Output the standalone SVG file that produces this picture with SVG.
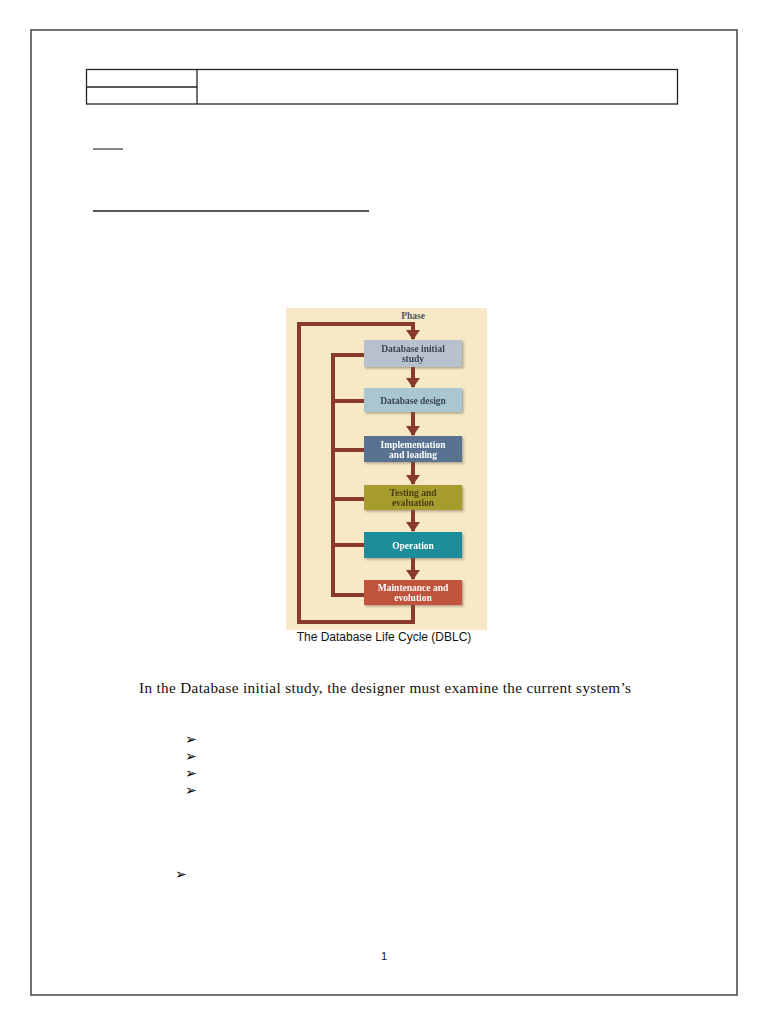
<svg xmlns="http://www.w3.org/2000/svg" width="768" height="1024" viewBox="0 0 768 1024">
<style>
.rule{stroke:#333;fill:none}
.loop{stroke:#8a3a2c;stroke-width:4;fill:none}
.box{stroke:none}
.bt{font-family:"Liberation Serif",serif;font-weight:bold;font-size:9.5px;text-anchor:middle}
.bul{font-family:"DejaVu Sans",sans-serif;font-weight:bold;font-size:14px;fill:#000}
</style>
<defs>
<marker id="ah" viewBox="0 0 10 14" refX="9" refY="7" markerWidth="10" markerHeight="14" markerUnits="userSpaceOnUse" orient="auto">
<path d="M0,0 L10,7 L0,14 Z" fill="#8a3a2c"/>
</marker>
<filter id="sh" x="-10%" y="-20%" width="130%" height="160%">
<feDropShadow dx="1.5" dy="1.5" stdDeviation="1" flood-color="#6b5a40" flood-opacity="0.5"/>
</filter>
</defs>
<rect width="768" height="1024" fill="#fff"/>
<!-- page border -->
<rect x="31" y="30" width="706" height="965" fill="none" stroke="#444" stroke-width="1.5"/>
<!-- header table -->
<g id="header-table" class="rule">
<rect x="86.5" y="69.5" width="591" height="34.5" stroke="#222" stroke-width="1.3"/>
<line x1="86.5" y1="87" x2="197" y2="87" stroke="#222" stroke-width="1.3"/>
<line x1="197" y1="69.5" x2="197" y2="104" stroke="#222" stroke-width="1.3"/>
</g>
<!-- underlines -->
<line x1="93" y1="149" x2="123" y2="149" stroke="#444" stroke-width="1.3"/>
<line x1="93" y1="211" x2="369" y2="211" stroke="#222" stroke-width="1.3"/>
<!-- figure background -->
<rect x="286" y="308" width="201" height="322" fill="#f7e9c8"/>
<text x="413" y="319" class="bt" fill="#555" font-size="9">Phase</text>
<!-- connectors -->
<g id="connectors">
<path class="loop" d="M413,605 V622 H299 V324 H413 V339" marker-end="url(#ah)"/>
<path class="loop" d="M365,355 H333 V595 H365"/>
<line class="loop" x1="333" y1="401" x2="365" y2="401"/>
<line class="loop" x1="333" y1="450" x2="365" y2="450"/>
<line class="loop" x1="333" y1="499" x2="365" y2="499"/>
<line class="loop" x1="333" y1="545" x2="365" y2="545"/>
<line class="loop" x1="413" y1="367" x2="413" y2="387" marker-end="url(#ah)"/>
<line class="loop" x1="413" y1="412" x2="413" y2="435" marker-end="url(#ah)"/>
<line class="loop" x1="413" y1="462" x2="413" y2="484" marker-end="url(#ah)"/>
<line class="loop" x1="413" y1="510" x2="413" y2="531" marker-end="url(#ah)"/>
<line class="loop" x1="413" y1="558" x2="413" y2="579" marker-end="url(#ah)"/>
</g>
<g id="n1" filter="url(#sh)"><rect class="box" x="364" y="340" width="98" height="27" fill="#b8c2cc"/>
<text class="bt" x="413" y="352" fill="#3b4350">Database initial</text><text class="bt" x="413" y="362" fill="#3b4350">study</text></g>
<g id="n2" filter="url(#sh)"><rect class="box" x="364" y="388" width="98" height="24" fill="#a9c7d3"/>
<text class="bt" x="413" y="403.5" fill="#3b4350">Database design</text></g>
<g id="n3" filter="url(#sh)"><rect class="box" x="364" y="436" width="98" height="26" fill="#58728f"/>
<text class="bt" x="413" y="447.5" fill="#fff">Implementation</text><text class="bt" x="413" y="457.5" fill="#fff">and loading</text></g>
<g id="n4" filter="url(#sh)"><rect class="box" x="364" y="485" width="98" height="25" fill="#a69d2e"/>
<text class="bt" x="413" y="496" fill="#4a3f12">Testing and</text><text class="bt" x="413" y="506" fill="#4a3f12">evaluation</text></g>
<g id="n5" filter="url(#sh)"><rect class="box" x="364" y="532" width="98" height="26" fill="#1e8e99"/>
<text class="bt" x="413" y="548.5" fill="#fff">Operation</text></g>
<g id="n6" filter="url(#sh)"><rect class="box" x="364" y="580" width="98" height="25" fill="#c0523a"/>
<text class="bt" x="413" y="591" fill="#fff">Maintenance and</text><text class="bt" x="413" y="601" fill="#fff">evolution</text></g>
<text x="384" y="641" font-family="Liberation Sans,Arial,sans-serif" font-size="12" text-anchor="middle" fill="#111">The Database Life Cycle (DBLC)</text>
<text x="139" y="693" font-family="Liberation Serif,serif" font-size="15.2" fill="#111" textLength="492" lengthAdjust="spacing">In the Database initial study, the designer must examine the current system’s</text>
<text class="bul" x="185" y="744">➢</text>
<text class="bul" x="185" y="761">➢</text>
<text class="bul" x="185" y="778">➢</text>
<text class="bul" x="185" y="795">➢</text>
<text class="bul" x="175" y="879">➢</text>
<text x="384" y="960" font-family="Liberation Sans,Carlito,sans-serif" font-size="11" text-anchor="middle" fill="#111">1</text>
</svg>
